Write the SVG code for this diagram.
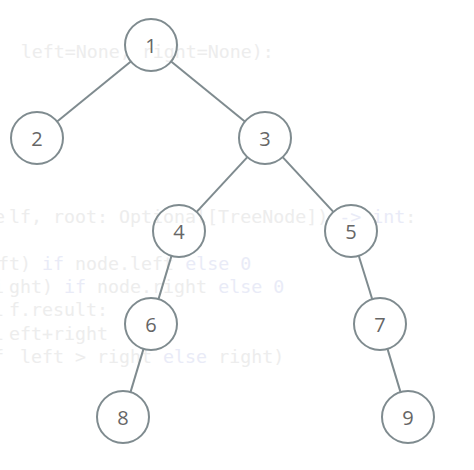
<svg xmlns="http://www.w3.org/2000/svg" width="474" height="470" viewBox="0 0 474 470">
<style>
.code{font-family:"DejaVu Sans Mono","Liberation Mono",monospace;font-size:18.3px;fill:#ededed}
.kw{fill:#e9ebf7}
.node circle{fill:none;stroke:#7f8b8f;stroke-width:2}
.node text{font-family:"Open Sans","Noto Sans","Liberation Sans",sans-serif;font-size:20px;fill:#666;text-anchor:middle}
#edges line{stroke:#7f8b8f;stroke-width:2}
</style>
<rect width="474" height="470" fill="#fff"/>
<g id="background-code">
<text class="code" x="20.7" y="58" xml:space="preserve">left=None, right=None):</text>
<text class="code" y="223" xml:space="preserve"><tspan x="-6">e</tspan><tspan x="9">lf, root: Optional[TreeNode]) </tspan><tspan class="kw">-&gt; int</tspan>:</text>
<text class="code" x="-2" y="270" xml:space="preserve">ft) <tspan class="kw">if</tspan> node.left <tspan class="kw">else 0</tspan></text>
<text class="code" y="293" xml:space="preserve"><tspan x="-7">i</tspan><tspan x="9">ght) </tspan><tspan class="kw">if</tspan> node.right <tspan class="kw">else 0</tspan></text>
<text class="code" y="316" xml:space="preserve"><tspan x="-7">l</tspan><tspan x="9">f.result:</tspan></text>
<text class="code" y="340" xml:space="preserve"><tspan x="-7">l</tspan><tspan x="9">eft+right</tspan></text>
<text class="code" y="363" xml:space="preserve"><tspan x="-7">f</tspan><tspan x="9"> left &gt; right </tspan><tspan class="kw">else</tspan> right)</text>
</g>
<g id="edges">
<line x1="130.85" y1="61.43" x2="57.15" y2="121.57"/>
<line x1="171.15" y1="61.43" x2="244.85" y2="121.57"/>
<line x1="247.35" y1="157.09" x2="196.65" y2="211.91"/>
<line x1="282.65" y1="157.09" x2="333.35" y2="211.91"/>
<line x1="171.5" y1="255.9" x2="158.5" y2="299.1"/>
<line x1="358.74" y1="255.82" x2="372.26" y2="299.18"/>
<line x1="143.5" y1="348.9" x2="130.5" y2="392.1"/>
<line x1="387.5" y1="348.9" x2="400.5" y2="392.1"/>
</g>
<g id="node1" class="node"><circle cx="151" cy="45" r="26"/><text x="151" y="52.5">1</text></g>
<g id="node2" class="node"><circle cx="37" cy="138" r="26"/><text x="37" y="145.5">2</text></g>
<g id="node3" class="node"><circle cx="265" cy="138" r="26"/><text x="265" y="145.5">3</text></g>
<g id="node4" class="node"><circle cx="179" cy="231" r="26"/><text x="179" y="238.5">4</text></g>
<g id="node5" class="node"><circle cx="351" cy="231" r="26"/><text x="351" y="238.5">5</text></g>
<g id="node6" class="node"><circle cx="151" cy="324" r="26"/><text x="151" y="331.5">6</text></g>
<g id="node7" class="node"><circle cx="380" cy="324" r="26"/><text x="380" y="331.5">7</text></g>
<g id="node8" class="node"><circle cx="123" cy="417" r="26"/><text x="123" y="424.5">8</text></g>
<g id="node9" class="node"><circle cx="408" cy="417" r="26"/><text x="408" y="424.5">9</text></g>
</svg>
